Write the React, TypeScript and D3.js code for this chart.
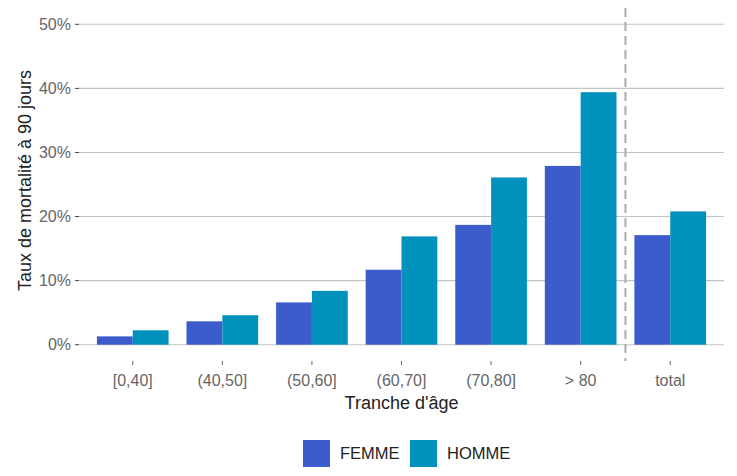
import { useEffect, useRef } from "react";
import * as d3 from "d3";

const categories = ["[0,40]", "(40,50]", "(50,60]", "(60,70]", "(70,80]", "> 80", "total"];
const femme = [1.3, 3.65, 6.6, 11.7, 18.7, 27.9, 17.1];
const homme = [2.25, 4.6, 8.4, 16.9, 26.1, 39.4, 20.8];
const series = ["FEMME", "HOMME"];
const colors = ["#3c5ccc", "#0091bc"];
const yTicks = [0, 10, 20, 30, 40, 50];

const width = 737;
const height = 476;
const margin = { top: 8, right: 13, bottom: 131, left: 79 };

export default function App() {
  const svgRef = useRef<SVGSVGElement | null>(null);

  useEffect(() => {
    if (!svgRef.current) return;
    const svg = d3.select(svgRef.current);
    svg.selectAll("*").remove();

    const innerW = width - margin.left - margin.right;
    // ggplot-like discrete axis: 0.6 step expansion on both sides
    const step = innerW / (categories.length - 1 + 1.2);
    const center = (i: number) => margin.left + step * 0.6 + i * step;
    const y = d3.scaleLinear().domain([0, 50]).range([344.7, 24.3]);
    const font = "'Liberation Sans', Arial, sans-serif";

    // gridlines
    svg.append("g")
      .selectAll("line")
      .data(yTicks)
      .enter()
      .append("line")
      .attr("x1", margin.left)
      .attr("x2", width - margin.right)
      .attr("y1", d => y(d))
      .attr("y2", d => y(d))
      .attr("stroke", "#c4c4c4")
      .attr("stroke-width", 1.1);

    // y ticks + labels
    const yAxis = svg.append("g");
    yAxis.selectAll("line").data(yTicks).enter().append("line")
      .attr("x1", margin.left - 4).attr("x2", margin.left)
      .attr("y1", d => y(d)).attr("y2", d => y(d))
      .attr("stroke", "#444").attr("stroke-width", 1);
    yAxis.selectAll("text").data(yTicks).enter().append("text")
      .attr("x", margin.left - 8)
      .attr("y", d => y(d))
      .attr("dy", "0.35em")
      .attr("text-anchor", "end")
      .attr("font-family", font)
      .attr("font-size", 16)
      .attr("fill", "#666")
      .text(d => d + "%");

    // bars
    const barW = step * 0.4;
    const data = [femme, homme];
    data.forEach((vals, s) => {
      svg.append("g")
        .selectAll("rect")
        .data(vals)
        .enter()
        .append("rect")
        .attr("x", (_d, i) => center(i) - barW + s * barW)
        .attr("y", d => y(d))
        .attr("width", barW)
        .attr("height", d => y(0) - y(d))
        .attr("fill", colors[s]);
    });

    // dashed separator between "> 80" and "total"
    svg.append("line")
      .attr("x1", (center(5) + center(6)) / 2)
      .attr("x2", (center(5) + center(6)) / 2)
      .attr("y1", 8)
      .attr("y2", 361)
      .attr("stroke", "#ababab")
      .attr("stroke-width", 2)
      .attr("stroke-dasharray", "9,5");

    // x ticks + labels
    const xAxis = svg.append("g");
    xAxis.selectAll("line").data(categories).enter().append("line")
      .attr("x1", (_d, i) => center(i)).attr("x2", (_d, i) => center(i))
      .attr("y1", 361).attr("y2", 365)
      .attr("stroke", "#666").attr("stroke-width", 1);
    xAxis.selectAll("text").data(categories).enter().append("text")
      .attr("x", (_d, i) => center(i))
      .attr("y", 386)
      .attr("text-anchor", "middle")
      .attr("font-family", font)
      .attr("font-size", 16)
      .attr("fill", "#666")
      .text(d => d);

    // axis titles
    svg.append("text")
      .attr("x", margin.left + innerW / 2)
      .attr("y", 409)
      .attr("text-anchor", "middle")
      .attr("font-family", font)
      .attr("font-size", 18)
      .attr("fill", "#222")
      .text("Tranche d'âge");
    svg.append("text")
      .attr("transform", `translate(31,${(y(0) + y(50)) / 2 - 4}) rotate(-90)`)
      .attr("text-anchor", "middle")
      .attr("font-family", font)
      .attr("font-size", 18)
      .attr("fill", "#222")
      .text("Taux de mortalité à 90 jours");

    // legend
    const legendX = [303, 410];
    const lg = svg.append("g");
    series.forEach((name, i) => {
      lg.append("rect")
        .attr("x", legendX[i])
        .attr("y", 440)
        .attr("width", 27)
        .attr("height", 27)
        .attr("fill", colors[i]);
      lg.append("text")
        .attr("x", legendX[i] + 37)
        .attr("y", 453.5)
        .attr("dy", "0.35em")
        .attr("font-family", font)
        .attr("font-size", 16.5)
        .attr("fill", "#222")
        .text(name);
    });
  }, []);

  return (
    <div style={{ position: "absolute", left: 0, top: 0, background: "#fff" }}>
      <svg ref={svgRef} width={width} height={height} style={{ display: "block" }} />
    </div>
  );
}
